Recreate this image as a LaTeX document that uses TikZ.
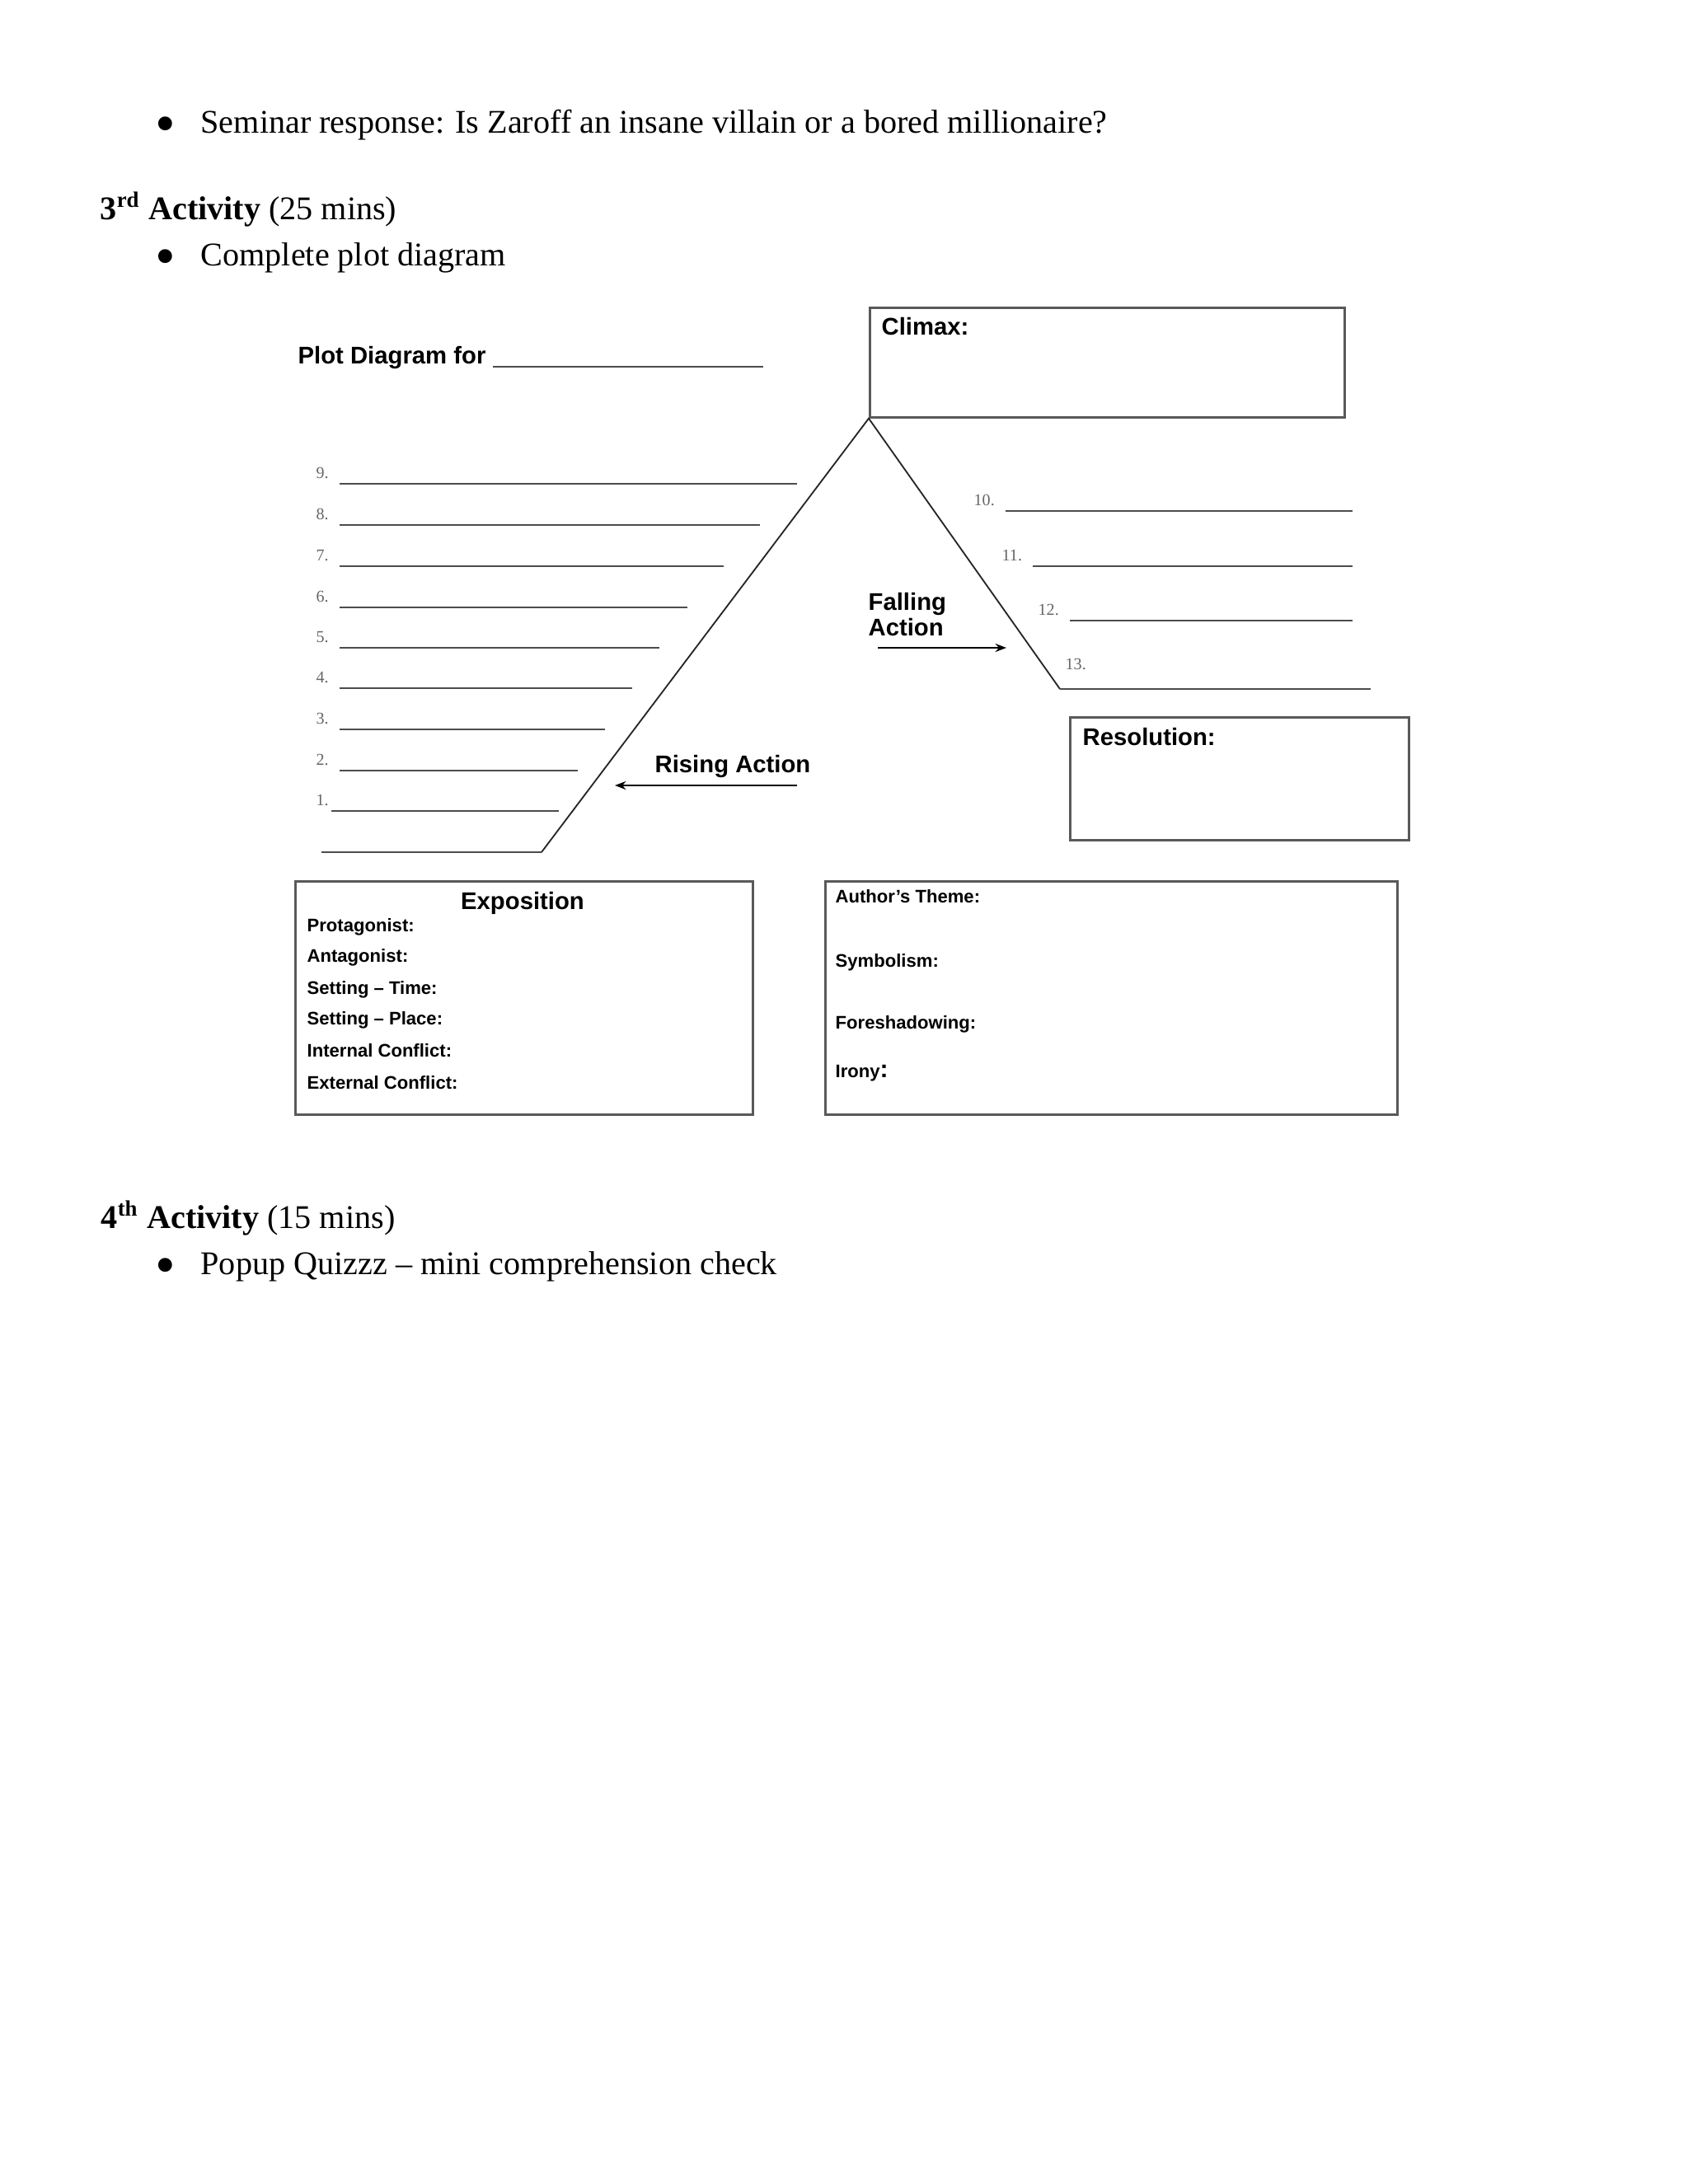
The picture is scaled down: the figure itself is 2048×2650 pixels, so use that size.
\documentclass[tikz,border=0pt]{standalone}
\usepackage{fontspec}
\setmainfont{Liberation Serif}
\newfontfamily\arialfont{Liberation Sans}
\usetikzlibrary{arrows.meta}
\def\pu{0.298828pt}
\begin{document}
\begin{tikzpicture}[x=0.298828pt,y=-0.298828pt,
  body/.style={font=\fontsize{12}{14}\selectfont, anchor=base west, inner sep=0pt},
  bul/.style={font=\fontsize{21}{22}\selectfont, anchor=center, inner sep=0pt},
  lbl/.style={font=\arialfont\bfseries\fontsize{8.75}{10}\selectfont, anchor=base west, inner sep=0pt},
  sml/.style={font=\arialfont\bfseries\fontsize{6.6}{8}\selectfont, anchor=base west, inner sep=0pt},
  num/.style={font=\fontsize{6}{7}\selectfont, text=black!60, anchor=base west, inner sep=0pt},
  blank/.style={line width=0.6pt, draw=black!70},
  plotline/.style={line width=0.55pt, draw=black!85},
  frame/.style={draw=black!65, line width=0.8pt, inner sep=0pt, anchor=north west},
  arr/.style={-{Stealth[length=4pt,width=3pt]}, line width=0.7pt}
]
\useasboundingbox (0,0) rectangle (2048,2650);
\fill[white] (0,0) rectangle (2048,2650);

% header text
\node[bul] (b1) at (201,158) {•};
\node[body] (t1) at (243,161) {Seminar response: Is Zaroff an insane villain or a bored millionaire?};
\node[body] (h3) at (121,266) {\textbf{3\textsuperscript{rd} Activity} (25 mins)};
\node[bul] (b2) at (201,319) {•};
\node[body] (t2) at (243,322) {Complete plot diagram};

% title
\node[lbl] (title) at (361,441) {Plot Diagram for};
\coordinate (ul1) at (598,445);
\coordinate (ul2) at (926,445);
\draw[blank] (ul1) -- (ul2);

% climax box
\node[frame, minimum width=576*\pu, minimum height=133*\pu] (climax) at (1054,372) {};
\node[lbl] (climaxlbl) at (1069,406) {Climax:};

% rising blank lines
\foreach \n/\y/\xs/\xe in {9/587/412/967, 8/637/412/922, 7/687/412/878, 6/737/412/834,
  5/786/412/800, 4/835/412/767, 3/885/412/734, 2/935/412/701, 1/984/402/678} {
  \node[num] (n\n) at (383,\y-7) {\n.};
  \coordinate (ls\n) at (\xs,\y);
  \coordinate (le\n) at (\xe,\y);
  \draw[blank] (ls\n) -- (le\n);
}

% plot line
\coordinate (bl) at (390,1034);
\coordinate (base) at (657,1034);
\coordinate (fallend) at (1286,836);
\coordinate (fallright) at (1663,836);
\draw[blank] (bl) -- (base);
\draw[plotline] (base) -- (climax.south west) -- (fallend);
\draw[blank] (fallend) -- (fallright);

% falling blank lines
\foreach \n/\nx/\y/\xs in {10/1181/620/1220, 11/1215/687/1253, 12/1259/753/1298} {
  \node[num] (n\n) at (\nx,\y-7) {\n.};
  \coordinate (ls\n) at (\xs,\y);
  \coordinate (le\n) at (1641,\y);
  \draw[blank] (ls\n) -- (le\n);
}
\node[num] (n13) at (1292,812) {13.};

% rising action label + arrow
\node[lbl] (rising) at (794,937) {Rising Action};
\coordinate (ra1) at (967,953);
\coordinate (ra2) at (746,953);
\draw[arr] (ra1) -- (ra2);

% falling action label + arrow
\node[lbl] (fall1) at (1053,740) {Falling};
\node[lbl] (fall2) at (1053,771) {Action};
\coordinate (fa1) at (1065,786);
\coordinate (fa2) at (1221,786);
\draw[arr] (fa1) -- (fa2);

% resolution box
\node[frame, minimum width=411*\pu, minimum height=149*\pu] (resol) at (1297,869) {};
\node[lbl] (resollbl) at (1313,904) {Resolution:};

% exposition box
\node[frame, minimum width=555*\pu, minimum height=283*\pu] (expo) at (357,1068) {};
\node[lbl, anchor=base] (expolbl) at (634,1103) {Exposition};
\node[sml] (prot) at (372,1130) {Protagonist:};
\node[sml] (anta) at (372,1167) {Antagonist:};
\node[sml] (stime) at (372,1206) {Setting – Time:};
\node[sml] (splace) at (372,1243) {Setting – Place:};
\node[sml] (intc) at (372,1282) {Internal Conflict:};
\node[sml] (extc) at (372,1321) {External Conflict:};

% theme box
\node[frame, minimum width=694*\pu, minimum height=283*\pu] (theme) at (1000,1068) {};
\node[sml] (auth) at (1013,1095) {Author’s Theme:};
\node[sml] (symb) at (1013,1173) {Symbolism:};
\node[sml] (fore) at (1013,1248) {Foreshadowing:};
\node[sml] (iron) at (1013,1307) {Irony\fontsize{9}{10}\selectfont:};

% 4th activity
\node[body] (h4) at (122,1490) {\textbf{4\textsuperscript{th} Activity} (15 mins)};
\node[bul] (b3) at (201,1543) {•};
\node[body] (t3) at (243,1546) {Popup Quizzz – mini comprehension check};
\end{tikzpicture}
\end{document}
